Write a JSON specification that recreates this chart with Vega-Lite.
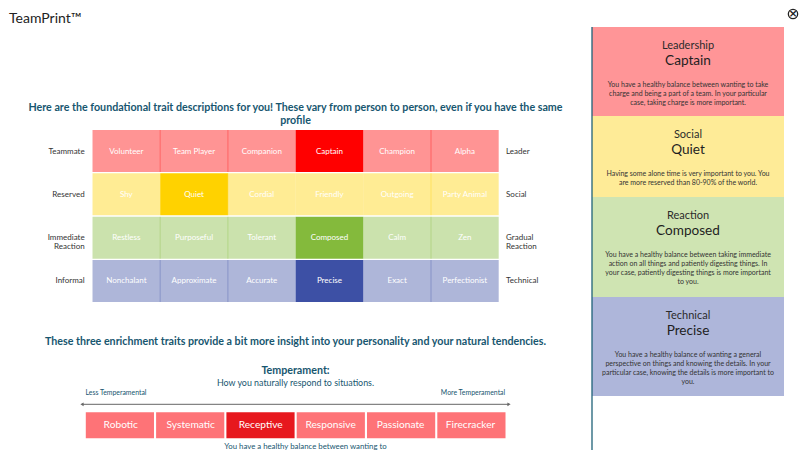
{
"$schema":"https://vega.github.io/schema/vega-lite/v6.json",
"width":800,"height":450,"padding":0,"autosize":{"type":"none"},
"background":"#ffffff",
"view":{"stroke":null},
"config":{"font":"Lato","axis":null,"text":{"font":"Lato"}},
"datasets":{
"traits":[
{"dimension":"Leadership","col":1,"trait":"Volunteer","selected":"no"},{"dimension":"Leadership","col":2,"trait":"Team Player","selected":"no"},{"dimension":"Leadership","col":3,"trait":"Companion","selected":"no"},{"dimension":"Leadership","col":4,"trait":"Captain","selected":"yes"},{"dimension":"Leadership","col":5,"trait":"Champion","selected":"no"},{"dimension":"Leadership","col":6,"trait":"Alpha","selected":"no"},
{"dimension":"Social","col":1,"trait":"Shy","selected":"no"},{"dimension":"Social","col":2,"trait":"Quiet","selected":"yes"},{"dimension":"Social","col":3,"trait":"Cordial","selected":"no"},{"dimension":"Social","col":4,"trait":"Friendly","selected":"no"},{"dimension":"Social","col":5,"trait":"Outgoing","selected":"no"},{"dimension":"Social","col":6,"trait":"Party Animal","selected":"no"},
{"dimension":"Reaction","col":1,"trait":"Restless","selected":"no"},{"dimension":"Reaction","col":2,"trait":"Purposeful","selected":"no"},{"dimension":"Reaction","col":3,"trait":"Tolerant","selected":"no"},{"dimension":"Reaction","col":4,"trait":"Composed","selected":"yes"},{"dimension":"Reaction","col":5,"trait":"Calm","selected":"no"},{"dimension":"Reaction","col":6,"trait":"Zen","selected":"no"},
{"dimension":"Technical","col":1,"trait":"Nonchalant","selected":"no"},{"dimension":"Technical","col":2,"trait":"Approximate","selected":"no"},{"dimension":"Technical","col":3,"trait":"Accurate","selected":"no"},{"dimension":"Technical","col":4,"trait":"Precise","selected":"yes"},{"dimension":"Technical","col":5,"trait":"Exact","selected":"no"},{"dimension":"Technical","col":6,"trait":"Perfectionist","selected":"no"}
],
"poles":[
{"dimension":"Leadership","low":"Teammate","high":"Leader"},
{"dimension":"Social","low":"Reserved","high":"Social"},
{"dimension":"Reaction","low":"Immediate\nReaction","high":"Gradual\nReaction"},
{"dimension":"Technical","low":"Informal","high":"Technical"}
],
"cards":[
{"panel":"summary","order":1,"size":89,"dimension":"Leadership","trait":"Captain","text":"You have a healthy balance between wanting to take\ncharge and being a part of a team. In your particular\ncase, taking charge is more important."},
{"panel":"summary","order":2,"size":81,"dimension":"Social","trait":"Quiet","text":"Having some alone time is very important to you. You\nare more reserved than 80-90% of the world."},
{"panel":"summary","order":3,"size":100,"dimension":"Reaction","trait":"Composed","text":"You have a healthy balance between taking immediate\naction on all things and patiently digesting things. In\nyour case, patiently digesting things is more important\nto you."},
{"panel":"summary","order":4,"size":99,"dimension":"Technical","trait":"Precise","text":"You have a healthy balance of wanting a general\nperspective on things and knowing the details. In your\nparticular case, knowing the details is more important to\nyou."}
],
"temperament":[
{"trait":"Robotic","selected":"no"},{"trait":"Systematic","selected":"no"},{"trait":"Receptive","selected":"yes"},{"trait":"Responsive","selected":"no"},{"trait":"Passionate","selected":"no"},{"trait":"Firecracker","selected":"no"}
],
"scaleEnds":[{"end":"Less Temperamental","dir":"left","pos":0},{"end":"More Temperamental","dir":"right","pos":1}]
},
"resolve":{"scale":{"x":"independent","y":"independent","color":"independent","opacity":"independent","shape":"independent"}},
"layer":[
{"data":{"values":[{"text":"TeamPrint™"}]},"mark":{"type":"text","align":"left","baseline":"middle","fontSize":14,"color":"#222222"},
"encoding":{"x":{"field":"text","type":"nominal","scale":{"type":"point","range":[9,9]},"axis":null},"y":{"field":"text","type":"nominal","scale":{"type":"point","range":[19,19]},"axis":null},"text":{"field":"text"}}},
{"data":{"values":[{"icon":"close"}]},"mark":{"type":"arc","radius":5.3,"radius2":4,"theta":0,"theta2":6.2832,"color":"#222222"},
"encoding":{"x":{"field":"icon","type":"nominal","scale":{"type":"point","range":[793,793]},"axis":null},"y":{"field":"icon","type":"nominal","scale":{"type":"point","range":[14,14]},"axis":null}}},
{"data":{"values":[{"icon":"×"}]},"mark":{"type":"text","align":"center","baseline":"middle","fontSize":11,"fontWeight":"bold","font":"DejaVu Sans","color":"#222222"},
"encoding":{"x":{"field":"icon","type":"nominal","scale":{"type":"point","range":[793,793]},"axis":null},"y":{"field":"icon","type":"nominal","scale":{"type":"point","range":[14,14]},"axis":null},"text":{"field":"icon"}}},

{"data":{"values":[{"text":"Here are the foundational trait descriptions for you! These vary from person to person, even if you have the same\nprofile"}]},"mark":{"type":"text","lineBreak":"\n","lineHeight":13.5,"align":"center","baseline":"middle","fontSize":10.7,"fontWeight":"bold","color":"#17566f"},
"encoding":{"x":{"field":"text","type":"nominal","scale":{"type":"point","range":[295.5,295.5]},"axis":null},"y":{"field":"text","type":"nominal","scale":{"type":"point","range":[107.7,107.7]},"axis":null},"text":{"field":"text"}}},

{"data":{"name":"traits"},"mark":{"type":"rect"},
"encoding":{"x":{"field":"col","type":"ordinal","scale":{"domain":[0,1,2,3,4,5,6,7],"range":[24.8,566.4],"paddingInner":0,"paddingOuter":0},"axis":null},
"y":{"field":"dimension","type":"nominal","sort":null,"scale":{"domain":["Leadership","Social","Reaction","Technical"],"range":[130,302],"paddingInner":0.03,"paddingOuter":0},"axis":null},
"color":{"field":"dimension","type":"nominal","scale":{"domain":["Leadership","Social","Reaction","Technical"],"range":["#ff0000","#ffd200","#84ba3c","#3d50a5"]},"legend":null},
"opacity":{"field":"selected","type":"nominal","scale":{"domain":["no","yes"],"range":[0.42,1]},"legend":null}}},
{"data":{"name":"traits"},"transform":[{"filter":"datum.selected=='no' && (datum.col==2||datum.col==3||datum.col==6)"}],"mark":{"type":"tick","orient":"vertical","size":42,"thickness":1,"opacity":0.35},
"encoding":{"x":{"field":"col","type":"ordinal","bandPosition":0,"scale":{"domain":[0,1,2,3,4,5,6,7],"range":[24.8,566.4],"paddingInner":0,"paddingOuter":0},"axis":null},
"y":{"field":"dimension","type":"nominal","sort":null,"scale":{"domain":["Leadership","Social","Reaction","Technical"],"range":[130,302],"paddingInner":0.03,"paddingOuter":0},"axis":null},
"color":{"field":"dimension","type":"nominal","scale":{"domain":["Leadership","Social","Reaction","Technical"],"range":["#ff0000","#ffd200","#84ba3c","#3d50a5"]},"legend":null}}},
{"data":{"name":"traits"},"mark":{"type":"text","align":"center","baseline":"middle","fontSize":8,"color":"#ffffff"},
"encoding":{"x":{"field":"col","type":"ordinal","scale":{"domain":[0,1,2,3,4,5,6,7],"range":[24.8,566.4],"paddingInner":0,"paddingOuter":0},"axis":null},
"y":{"field":"dimension","type":"nominal","sort":null,"scale":{"domain":["Leadership","Social","Reaction","Technical"],"range":[130,302],"paddingInner":0.03,"paddingOuter":0},"axis":null},
"text":{"field":"trait"}}},
{"data":{"name":"poles"},"mark":{"type":"text","lineBreak":"\n","lineHeight":9.2,"align":"right","baseline":"middle","fontSize":8,"color":"#333333","dx":26},
"encoding":{"x":{"datum":0,"type":"ordinal","scale":{"domain":[0,1,2,3,4,5,6,7],"range":[24.8,566.4],"paddingInner":0,"paddingOuter":0},"axis":null},
"y":{"field":"dimension","type":"nominal","sort":null,"scale":{"domain":["Leadership","Social","Reaction","Technical"],"range":[130,302],"paddingInner":0.03,"paddingOuter":0},"axis":null},
"text":{"field":"low"}}},
{"data":{"name":"poles"},"mark":{"type":"text","lineBreak":"\n","lineHeight":9.2,"align":"left","baseline":"middle","fontSize":8,"color":"#333333","dx":-26.5},
"encoding":{"x":{"datum":7,"type":"ordinal","scale":{"domain":[0,1,2,3,4,5,6,7],"range":[24.8,566.4],"paddingInner":0,"paddingOuter":0},"axis":null},
"y":{"field":"dimension","type":"nominal","sort":null,"scale":{"domain":["Leadership","Social","Reaction","Technical"],"range":[130,302],"paddingInner":0.03,"paddingOuter":0},"axis":null},
"text":{"field":"high"}}},

{"data":{"values":[{"text":"These three enrichment traits provide a bit more insight into your personality and your natural tendencies."}]},"mark":{"type":"text","align":"center","baseline":"middle","fontSize":10.7,"fontWeight":"bold","color":"#17566f"},
"encoding":{"x":{"field":"text","type":"nominal","scale":{"type":"point","range":[295.5,295.5]},"axis":null},"y":{"field":"text","type":"nominal","scale":{"type":"point","range":[341.5,341.5]},"axis":null},"text":{"field":"text"}}},
{"data":{"values":[{"text":"Temperament:"}]},"mark":{"type":"text","align":"center","baseline":"middle","fontSize":10.7,"fontWeight":"bold","color":"#17566f"},
"encoding":{"x":{"field":"text","type":"nominal","scale":{"type":"point","range":[295.5,295.5]},"axis":null},"y":{"field":"text","type":"nominal","scale":{"type":"point","range":[371,371]},"axis":null},"text":{"field":"text"}}},
{"data":{"values":[{"text":"How you naturally respond to situations."}]},"mark":{"type":"text","align":"center","baseline":"middle","fontSize":8.9,"color":"#17566f"},
"encoding":{"x":{"field":"text","type":"nominal","scale":{"type":"point","range":[295.5,295.5]},"axis":null},"y":{"field":"text","type":"nominal","scale":{"type":"point","range":[383,383]},"axis":null},"text":{"field":"text"}}},
{"data":{"name":"scaleEnds"},"mark":{"type":"text","align":"center","baseline":"middle","fontSize":6.9,"color":"#17566f"},
"encoding":{"x":{"field":"end","type":"nominal","scale":{"type":"point","padding":0,"domain":["Less Temperamental","More Temperamental"],"range":[116,473]},"axis":null},"y":{"field":"end","type":"nominal","scale":{"type":"point","range":[393,393]},"axis":null},"text":{"field":"end"}}},
{"data":{"name":"scaleEnds"},"mark":{"type":"line","color":"#666666","strokeWidth":1},
"encoding":{"x":{"field":"pos","type":"quantitative","scale":{"domain":[0,1],"range":[82,509]},"axis":null},"y":{"field":"panel","type":"nominal","scale":{"type":"point","range":[404.3,404.3]},"axis":null}}},
{"data":{"name":"scaleEnds"},"mark":{"type":"point","filled":true,"size":14,"color":"#666666","opacity":1},
"encoding":{"x":{"field":"pos","type":"quantitative","scale":{"domain":[0,1],"range":[82,509]},"axis":null},"y":{"field":"panel","type":"nominal","scale":{"type":"point","range":[404.3,404.3]},"axis":null},
"shape":{"field":"dir","type":"nominal","scale":{"domain":["left","right"],"range":["triangle-left","triangle-right"]},"legend":null}}},
{"data":{"name":"temperament"},"mark":{"type":"rect"},
"encoding":{"x":{"field":"trait","type":"nominal","sort":null,"scale":{"range":[85.8,505.5],"paddingInner":0.03,"paddingOuter":0},"axis":null},
"y":{"field":"section","type":"nominal","scale":{"range":[412.3,438.3],"paddingInner":0,"paddingOuter":0},"axis":null},
"color":{"field":"selected","type":"nominal","scale":{"domain":["no","yes"],"range":["#fe7377","#e7181e"]},"legend":null}}},
{"data":{"name":"temperament"},"mark":{"type":"text","align":"center","baseline":"middle","fontSize":10.2,"color":"#ffffff"},
"encoding":{"x":{"field":"trait","type":"nominal","sort":null,"scale":{"range":[85.8,505.5],"paddingInner":0.03,"paddingOuter":0},"axis":null},
"y":{"field":"section","type":"nominal","scale":{"range":[412.3,438.3],"paddingInner":0,"paddingOuter":0},"axis":null},
"text":{"field":"trait"}}},
{"data":{"values":[{"text":"You have a healthy balance between wanting to"}]},"mark":{"type":"text","align":"center","baseline":"middle","fontSize":7.8,"color":"#17566f"},
"encoding":{"x":{"field":"text","type":"nominal","scale":{"type":"point","range":[305.5,305.5]},"axis":null},"y":{"field":"text","type":"nominal","scale":{"type":"point","range":[446.7,446.7]},"axis":null},"text":{"field":"text"}}},

{"data":{"name":"cards"},"transform":[{"stack":"size","groupby":["panel"],"sort":[{"field":"order"}],"as":["y0","y1"]}],"mark":{"type":"rect"},
"encoding":{"x":{"field":"panel","type":"nominal","scale":{"range":[592,784],"paddingInner":0,"paddingOuter":0},"axis":null},
"y":{"field":"y0","type":"quantitative","scale":{"domain":[0,423],"range":[27,450]},"axis":null},"y2":{"field":"y1"},
"color":{"field":"dimension","type":"nominal","scale":{"domain":["Leadership","Social","Reaction","Technical"],"range":["#ff9597","#feeb97","#cfe4b2","#aeb6da"]},"legend":null}}},
{"data":{"name":"cards"},"transform":[{"stack":"size","groupby":["panel"],"sort":[{"field":"order"}],"as":["y0","y1"]}],"mark":{"type":"text","align":"center","baseline":"middle","fontSize":11,"color":"#2b2b2b","dy":18.6},
"encoding":{"x":{"field":"panel","type":"nominal","scale":{"range":[592,784],"paddingInner":0,"paddingOuter":0},"axis":null},
"y":{"field":"y0","type":"quantitative","scale":{"domain":[0,423],"range":[27,450]},"axis":null},"text":{"field":"dimension"}}},
{"data":{"name":"cards"},"transform":[{"stack":"size","groupby":["panel"],"sort":[{"field":"order"}],"as":["y0","y1"]}],"mark":{"type":"text","align":"center","baseline":"middle","fontSize":13.6,"color":"#1f1f1f","dy":34},
"encoding":{"x":{"field":"panel","type":"nominal","scale":{"range":[592,784],"paddingInner":0,"paddingOuter":0},"axis":null},
"y":{"field":"y0","type":"quantitative","scale":{"domain":[0,423],"range":[27,450]},"axis":null},"text":{"field":"trait"}}},
{"data":{"name":"cards"},"transform":[{"stack":"size","groupby":["panel"],"sort":[{"field":"order"}],"as":["y0","y1"]}],"mark":{"type":"text","lineBreak":"\n","lineHeight":9.1,"align":"center","baseline":"top","fontSize":7,"color":"#333333","dy":54},
"encoding":{"x":{"field":"panel","type":"nominal","scale":{"range":[592,784],"paddingInner":0,"paddingOuter":0},"axis":null},
"y":{"field":"y0","type":"quantitative","scale":{"domain":[0,423],"range":[27,450]},"axis":null},"text":{"field":"text"}}},
{"data":{"values":[{"panel":"summary","from":0,"to":423}]},"mark":{"type":"rule","color":"#1f6278","strokeWidth":1.3},
"encoding":{"x":{"field":"panel","type":"nominal","bandPosition":0,"scale":{"range":[592,784],"paddingInner":0,"paddingOuter":0},"axis":null},
"y":{"field":"from","type":"quantitative","scale":{"domain":[0,423],"range":[27,450]},"axis":null},"y2":{"field":"to"}}}
]
}
